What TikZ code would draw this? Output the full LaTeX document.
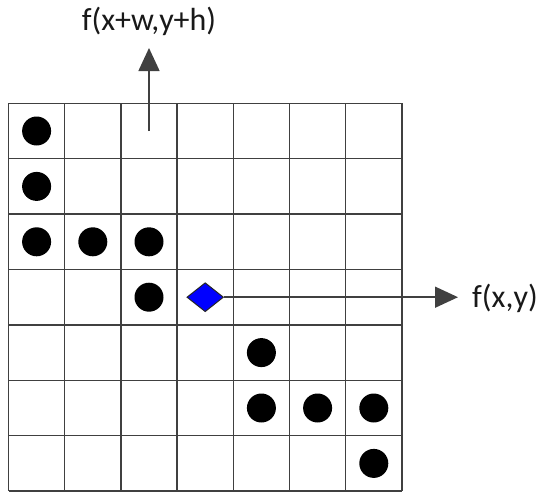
\documentclass[tikz,border=0pt]{standalone}
\usepackage{fontspec}
\setmainfont{Carlito}
\usetikzlibrary{shapes.geometric,arrows.meta}
\definecolor{gridc}{HTML}{404040}
\definecolor{arrc}{HTML}{404040}
\tikzset{
  dot/.style={circle, fill=black, minimum size=29pt, inner sep=0pt},
  gridline/.style={draw=gridc, line width=1.3pt},
  arrowline/.style={draw=arrc, line width=1.5pt, -{Triangle[length=23pt,width=21pt]}},
  lbl/.style={font=\fontsize{32}{38}\selectfont, inner sep=0pt, text=black!90},
}
\begin{document}
\begin{tikzpicture}[x=1pt,y=-1pt]
\useasboundingbox (0,0) rectangle (550,501);
\fill[white] (0,0) rectangle (550,501);
\def\cw{56.2}
\def\ch{55.4}
\def\ox{8.5}
\def\oy{103.3}
% grid
\foreach \i in {0,...,7}{
  \draw[gridline] ({\ox+\i*\cw},\oy) -- ({\ox+\i*\cw},{\oy+7*\ch});
  \draw[gridline] (\ox,{\oy+\i*\ch}) -- ({\ox+7*\cw},{\oy+\i*\ch});
}
% dots (row, col)
\foreach \r/\c [count=\k] in {0/0,1/0,2/0,2/1,2/2,3/2,4/4,5/4,5/5,5/6,6/6}{
  \node[dot] (p\k) at ({\ox+(\c+0.5)*\cw},{\oy+(\r+0.5)*\ch}) {};
}
% diamond
\node[diamond, fill=blue, draw=black!85, line width=1pt, minimum width=36.6pt, minimum height=29pt, inner sep=0pt, aspect=1.26] (d) at ({\ox+3.5*\cw},{\oy+3.5*\ch}) {};
% labels
\coordinate (rt) at (458,{\oy+3.5*\ch});
\node[lbl, anchor=west] (fxy) at (472,298) {f(x,y)};
\coordinate (up0) at ({\ox+2.5*\cw},{\oy+0.5*\ch});
\coordinate (uptip) at ({\ox+2.5*\cw},48);
\node[lbl] (fwh) at (149,21) {f(x+w,y+h)};
% arrows
\draw[arrowline] (d.east) -- (rt);
\draw[arrowline] (up0) -- (uptip);
\end{tikzpicture}
\end{document}
